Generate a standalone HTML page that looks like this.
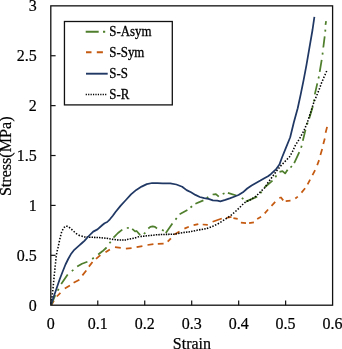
<!DOCTYPE html>
<html><head><meta charset="utf-8"><title>Stress-Strain</title>
<style>
html,body{margin:0;padding:0;background:#fff;}
svg{display:block;}
text{font-family:"Liberation Serif", "Times New Roman", serif;fill:#000;stroke:#000;stroke-width:0.2px;}
.ax{font-size:16px;}
.ay{font-size:16.1px;}
.lg{font-size:12.9px;stroke-width:0.28px;}
</style></head><body>
<svg width="342" height="349" viewBox="0 0 342 349">
<rect x="0" y="0" width="342" height="349" fill="#fff"/>
<path d="M51.6 304.8 L53.9 300.6 M56.8 296.5 L60.4 292.9 M64.8 288.5 L69.9 285.6 M73.6 282.7 L79.4 279.7 M82.4 275.4 L86.3 270.5 M88.9 266.6 L92.5 262.0 M96.0 258.9 L100.4 255.2 M105.5 252.3 L109.9 249.4 M115.0 247.2 L120.8 247.9 M125.9 248.6 L131.6 248.1 M136.6 247.1 L142.4 246.1 M147.5 245.0 L153.4 244.2 M157.8 243.9 L163.6 243.6 M167.7 241.7 L170.9 238.3 M174.3 234.4 L179.5 231.5 M184.4 228.6 L188.8 226.7 M193.6 225.2 L198.3 224.2 M202.7 224.5 L207.8 224.8 M212.6 221.8 L221.8 218.5 M226.2 218.0 L231.5 216.8 M233.4 218.1 L237.7 218.9 M240.9 222.7 L246.0 223.1 M249.1 223.2 L253.9 222.4 M257.2 218.9 L261.1 216.7 M264.7 213.3 L268.1 209.5 M271.5 205.8 L275.2 201.9 M279.3 197.8 L281.0 197.5 L283.2 200.4 M285.7 201.1 L290.5 200.7 M295.3 198.5 L297.8 196.6 M301.5 192.6 L305.1 188.3 M307.6 184.4 L310.1 179.7 M312.5 175.1 L315.1 170.1 M317.2 165.1 L319.1 160.1 M320.4 155.0 L322.2 149.1 M323.3 144.0 L324.8 138.6 M325.6 132.8 L327.1 126.9" fill="none" stroke="#c55a11" stroke-width="1.75" stroke-linejoin="round"/>
<path d="M51.2 304.6 L55.3 295.1 M57.7 290.6 L58.7 288.8 M61.2 284.1 L67.7 274.6 M71.8 271.1 L73.4 269.9 M77.2 266.6 L82.0 263.8 L87.4 261.8 M92.2 259.0 L93.8 257.8 M98.2 254.5 L102.4 251.3 L106.6 247.5 M109.5 243.3 L110.7 241.7 M113.5 237.7 L118.0 233.0 L122.3 229.6 M126.8 228.0 L128.8 227.8 M132.2 228.9 L135.1 231.4 L136.6 231.0 L140.2 235.1 M143.8 233.9 L145.4 232.7 M148.3 228.5 L150.3 226.9 L152.7 226.3 L155.0 226.9 L157.0 228.5 M162.0 229.9 L163.8 230.7 M165.8 232.9 L172.4 223.4 M175.5 219.6 L176.7 218.0 M179.6 214.2 L187.4 210.1 M190.5 207.5 L192.1 206.3 M195.4 203.7 L203.4 200.4 M206.7 198.1 L208.3 197.1 M212.6 194.5 L215.9 194.1 L218.8 196.7 M222.7 194.0 L224.5 193.2 M227.9 192.8 L236.3 195.5 M241.8 197.9 L243.4 198.9 M245.8 201.6 L257.2 196.6 M260.4 193.2 L261.6 191.6 M264.5 187.5 L272.5 180.7 M275.3 177.1 L276.5 175.5 M279.5 171.9 L282.5 171.2 L285.1 173.4 L287.6 169.7 M290.5 167.5 L291.9 166.1 M294.2 163.2 L299.3 152.2 M301.1 147.7 L301.7 145.7 M302.8 140.8 L305.5 129.9 M307.1 124.4 L307.7 122.4 M309.3 118.2 L312.8 106.5 M313.8 101.5 L314.2 99.5 M314.8 94.4 L317.3 83.4 M318.5 78.5 L318.9 76.5 M319.7 71.8 L321.7 59.9 M322.5 54.7 L322.7 52.7 M323.3 47.5 L324.7 36.3 M325.2 31.6 L325.4 29.6 M325.5 24.9 L326.1 21.2" fill="none" stroke="#4f7f2c" stroke-width="1.75" stroke-linejoin="round"/>
<path d="M51.10 303.72 L51.30 302.28 M51.53 300.65 L51.73 299.21 M51.96 297.58 L52.16 296.14 M52.39 294.51 L52.54 293.07 M52.70 291.42 L52.85 289.98 M53.02 288.34 L53.17 286.90 M53.33 285.26 L53.46 283.81 M53.61 282.17 L53.74 280.72 M53.89 279.08 L54.02 277.64 M54.18 275.99 L54.33 274.55 M54.50 272.91 L54.65 271.47 M54.81 269.83 L54.96 268.38 M55.13 266.74 L55.28 265.30 M55.45 263.66 L55.60 262.22 M55.77 260.58 L55.92 259.13 M56.13 257.50 L56.32 256.06 M56.53 254.42 L56.71 252.98 M57.05 251.37 L57.43 249.98 M57.90 248.39 L58.19 246.97 M58.52 245.35 L58.81 243.93 M59.14 242.32 L59.43 240.90 M59.75 239.28 L60.11 237.87 M60.52 236.27 L60.87 234.87 M61.28 233.27 L61.63 231.86 M62.36 230.39 L63.06 229.12 M63.83 227.65 L64.96 226.74 M66.29 226.02 L67.63 226.58 M69.02 227.13 L70.11 228.09 M71.35 229.19 L72.43 230.15 M73.65 231.26 L74.72 232.24 M75.91 233.39 L77.16 234.13 M78.57 234.98 L79.81 235.73 M81.43 236.09 L82.83 236.47 M84.09 236.97 L85.54 237.03 M86.58 237.08 L88.03 237.14 M89.06 237.18 L90.51 237.24 M91.55 237.29 L93.00 237.34 M94.03 237.38 L95.48 237.44 M96.51 237.48 L97.96 237.54 M98.99 237.53 L100.43 237.69 M101.55 237.81 L102.99 237.97 M104.11 238.09 L105.55 238.24 M106.67 238.35 L108.10 238.58 M109.28 238.77 L110.71 239.00 M111.89 239.18 L113.33 239.38 M114.48 239.54 L115.92 239.73 M117.07 239.89 L118.51 240.09 M119.67 240.07 L121.12 240.03 M122.13 240.00 L123.58 239.96 M124.60 239.94 L126.05 239.90 M127.03 239.62 L128.44 239.28 M129.70 238.96 L131.12 238.68 M132.34 238.43 L133.76 238.15 M134.98 237.91 L136.36 237.47 M137.68 237.05 L139.06 236.62 M140.45 236.53 L141.89 236.38 M143.01 236.26 L144.45 236.12 M145.56 236.00 L147.00 235.85 M148.11 235.73 L149.55 235.57 M150.68 235.44 L152.12 235.28 M153.24 235.15 L154.68 234.98 M155.81 234.82 L157.25 234.76 M158.29 234.71 L159.74 234.64 M160.78 234.60 L162.23 234.53 M163.27 234.48 L164.72 234.42 M165.76 234.39 L167.21 234.38 M168.20 234.36 L169.65 234.35 M170.65 234.34 L172.10 234.32 M173.09 234.31 L174.54 234.29 M175.51 233.97 L176.93 233.69 M178.15 233.44 L179.57 233.15 M180.79 232.90 L182.23 232.72 M183.37 232.58 L184.81 232.39 M185.95 232.25 L187.39 232.07 M188.53 231.92 L189.96 231.74 M191.08 231.48 L192.50 231.19 M193.73 230.94 L195.15 230.64 M196.37 230.39 L197.79 230.10 M199.02 229.88 L200.45 229.63 M201.64 229.43 L203.07 229.19 M204.25 228.99 L205.68 228.74 M206.88 228.59 L208.23 228.05 M209.60 227.51 L210.95 226.97 M212.32 226.43 L213.67 225.89 M214.99 225.24 L216.30 224.61 M217.72 223.97 L218.95 223.21 M220.35 222.33 L221.58 221.56 M222.97 220.67 L224.19 219.89 M225.57 218.99 L226.79 218.21 M228.15 217.26 L229.33 216.43 M230.72 215.52 L231.82 214.59 M233.09 213.53 L234.20 212.60 M235.46 211.54 L236.51 210.53 M237.71 209.40 L238.75 208.39 M239.95 207.25 L240.97 206.23 M242.14 205.06 L243.16 204.04 M244.42 202.97 L245.54 202.05 M246.96 201.24 L248.30 200.68 M249.68 200.10 L251.02 199.54 M252.22 198.62 L253.43 197.83 M254.82 196.94 L256.05 196.17 M257.22 195.00 L258.25 193.99 M259.43 192.83 L260.46 191.81 M261.63 190.65 L262.69 189.66 M263.90 188.53 L264.96 187.54 M265.83 186.14 L266.58 184.90 M267.38 183.46 L268.25 182.29 M269.24 180.97 L270.10 179.81 M271.09 178.49 L271.96 177.32 M272.92 175.98 L273.76 174.80 M274.71 173.46 L275.55 172.27 M276.50 170.92 L277.43 169.81 M278.50 168.55 L279.44 167.45 M280.50 166.19 L281.44 165.08 M282.61 163.92 L283.61 162.87 M284.75 161.68 L285.76 160.63 M286.91 159.45 L287.93 158.42 M289.08 157.24 L290.09 156.20 M290.79 154.68 L291.49 153.41 M292.28 151.96 L292.97 150.69 M293.61 149.17 L294.20 147.84 M294.87 146.33 L295.46 145.01 M296.42 143.66 L297.19 142.43 M298.07 141.03 L298.84 139.80 M299.71 138.40 L300.41 137.13 M301.20 135.68 L301.90 134.41 M302.70 132.97 L303.40 131.70 M304.15 130.23 L304.70 128.89 M305.32 127.36 L305.86 126.02 M306.49 124.49 L307.03 123.14 M307.66 121.62 L308.10 120.24 M308.60 118.66 L309.03 117.28 M309.53 115.71 L309.97 114.32 M310.46 112.75 L310.90 111.37 M311.41 109.80 L311.85 108.42 M312.36 106.85 L312.80 105.47 M313.31 103.90 L313.76 102.52 M314.43 101.01 L314.98 99.67 M315.61 98.14 L316.17 96.80 M316.80 95.28 L317.34 93.94 M317.97 92.41 L318.52 91.07 M319.15 89.54 L319.64 88.18 M320.20 86.62 L320.69 85.26 M321.25 83.71 L321.74 82.34 M322.43 80.84 L323.00 79.51 M323.66 78.00 L324.23 76.66 M324.89 75.15 L325.46 73.82 M326.12 72.31 L326.69 70.97" fill="none" stroke="#000" stroke-width="1.55"/>
<polyline points="51.2,304.6 53.8,296.5 56.8,287.8 59.7,279.3 62.6,271.7 65.5,264.5 68.2,259.0 70.8,254.3 74.3,249.8 79.6,245.2 82.0,243.0 84.4,240.8 88.8,236.0 93.2,231.6 97.5,229.4 102.4,225.0 104.6,223.2 107.2,222.0 109.9,219.3 112.8,215.8 115.5,212.0 120.7,205.6 125.9,200.0 131.0,194.3 136.3,189.9 141.6,186.6 146.8,184.1 152.1,183.0 157.4,183.2 162.6,183.3 167.0,183.3 170.3,183.4 176.4,184.5 182.2,186.7 186.6,190.1 191.0,192.3 195.4,194.9 199.8,197.0 204.2,198.2 208.5,198.9 212.9,200.4 217.3,200.7 220.3,201.3 225.3,199.9 229.7,198.4 234.1,196.7 238.5,195.0 242.9,192.3 247.2,188.5 251.6,185.5 256.0,183.0 260.4,180.6 264.8,177.9 268.0,176.2 270.8,174.2 275.9,169.4 279.4,164.6 282.0,157.5 285.5,148.8 289.1,140.0 290.2,137.2 293.8,122.5 297.7,108.2 300.7,94.4 303.6,80.1 306.4,65.4 309.2,49.2 312.5,30.0 314.4,16.8" fill="none" stroke="#203864" stroke-width="1.75" stroke-linejoin="round"/>
<rect x="50.8" y="5.85" width="281.80" height="299.35" fill="none" stroke="#111" stroke-width="1.3"/>
<line x1="50.8" y1="255.31" x2="55.599999999999994" y2="255.31" stroke="#111" stroke-width="1.2"/>
<line x1="50.8" y1="205.42" x2="55.599999999999994" y2="205.42" stroke="#111" stroke-width="1.2"/>
<line x1="50.8" y1="155.53" x2="55.599999999999994" y2="155.53" stroke="#111" stroke-width="1.2"/>
<line x1="50.8" y1="105.63" x2="55.599999999999994" y2="105.63" stroke="#111" stroke-width="1.2"/>
<line x1="50.8" y1="55.74" x2="55.599999999999994" y2="55.74" stroke="#111" stroke-width="1.2"/>
<line x1="97.77" y1="305.2" x2="97.77" y2="300.4" stroke="#111" stroke-width="1.2"/>
<line x1="144.73" y1="305.2" x2="144.73" y2="300.4" stroke="#111" stroke-width="1.2"/>
<line x1="191.70" y1="305.2" x2="191.70" y2="300.4" stroke="#111" stroke-width="1.2"/>
<line x1="238.67" y1="305.2" x2="238.67" y2="300.4" stroke="#111" stroke-width="1.2"/>
<line x1="285.63" y1="305.2" x2="285.63" y2="300.4" stroke="#111" stroke-width="1.2"/>
<text class="ax" transform="translate(36.8,310.5) scale(1,1.11)" text-anchor="end">0</text>
<text class="ax" transform="translate(36.8,260.6) scale(1,1.11)" text-anchor="end">0.5</text>
<text class="ax" transform="translate(36.8,210.7) scale(1,1.11)" text-anchor="end">1</text>
<text class="ax" transform="translate(36.8,160.8) scale(1,1.11)" text-anchor="end">1.5</text>
<text class="ax" transform="translate(36.8,110.9) scale(1,1.11)" text-anchor="end">2</text>
<text class="ax" transform="translate(36.8,61.0) scale(1,1.11)" text-anchor="end">2.5</text>
<text class="ax" transform="translate(36.8,11.2) scale(1,1.11)" text-anchor="end">3</text>
<text class="ax" transform="translate(50.8,329.4) scale(1,1.11)" text-anchor="middle">0</text>
<text class="ax" transform="translate(97.8,329.4) scale(1,1.11)" text-anchor="middle">0.1</text>
<text class="ax" transform="translate(144.7,329.4) scale(1,1.11)" text-anchor="middle">0.2</text>
<text class="ax" transform="translate(191.7,329.4) scale(1,1.11)" text-anchor="middle">0.3</text>
<text class="ax" transform="translate(238.7,329.4) scale(1,1.11)" text-anchor="middle">0.4</text>
<text class="ax" transform="translate(285.6,329.4) scale(1,1.11)" text-anchor="middle">0.5</text>
<text class="ax" transform="translate(332.6,329.4) scale(1,1.11)" text-anchor="middle">0.6</text>
<text class="ax" transform="translate(191.9,349.0) scale(1,1.11)" text-anchor="middle">Strain</text>
<text class="ay" transform="translate(11,156.3) rotate(-90)" text-anchor="middle">Stress(MPa)</text>
<rect x="64.45" y="21.5" width="107.85" height="83.40" fill="#fff" stroke="#111" stroke-width="1.3"/>
<line x1="85.7" y1="31.8" x2="107.5" y2="31.8" stroke="#4f7f2c" stroke-width="1.9" stroke-dasharray="13 4.3 2.2 4.3"/>
<line x1="86" y1="52.3" x2="107.5" y2="52.3" stroke="#c55a11" stroke-width="1.9" stroke-dasharray="5.5 5.3 6.1 10"/>
<line x1="86" y1="73.7" x2="107.7" y2="73.7" stroke="#203864" stroke-width="1.9"/>
<line x1="85.7" y1="94.5" x2="106.4" y2="94.5" stroke="#000" stroke-width="1.7" stroke-dasharray="1.2 1.225"/>
<text class="lg" transform="translate(109.3,36.1) scale(1,1.08)" text-anchor="start">S-Asym</text>
<text class="lg" transform="translate(109.3,56.6) scale(1,1.08)" text-anchor="start">S-Sym</text>
<text class="lg" transform="translate(109.3,78.0) scale(1,1.08)" text-anchor="start">S-S</text>
<text class="lg" transform="translate(109.3,98.8) scale(1,1.08)" text-anchor="start">S-R</text>
</svg>
</body></html>
